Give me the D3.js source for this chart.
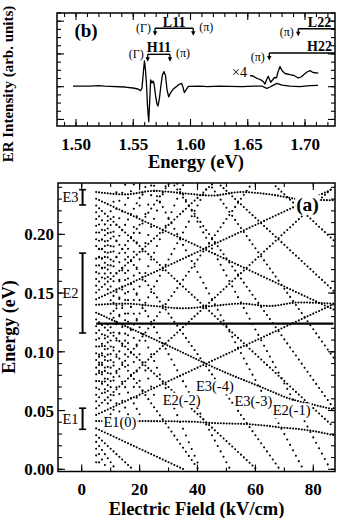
<!DOCTYPE html>
<html><head><meta charset="utf-8">
<script src="https://cdn.jsdelivr.net/npm/d3@7"></script>
<style>
html,body{margin:0;padding:0;background:#fff;}
svg{display:block;}
text{font-family:"Liberation Serif","Times New Roman",serif;fill:#000;}
</style></head><body>
<svg id="c" width="340" height="518"></svg>
<script>
// ================= DATA =================
// Panel (b): electroreflectance spectrum, [energy eV, intensity arb.]
const specTickLabels = [1.50, 1.55, 1.60, 1.65, 1.70];
const specMain = [
 [1.4974,0.02],[1.5122,0.02],[1.5200,0.03],[1.5250,0.015],[1.5297,0.01],[1.5428,-0.01],
 [1.5498,-0.04],[1.5541,-0.07],[1.5563,-0.12],[1.5576,-0.05],[1.5590,0.51],[1.5598,0.79],
 [1.5607,0.50],[1.5616,0.05],[1.5624,-0.56],[1.5635,-1.07],[1.5644,-0.41],[1.5652,0.21],
 [1.5664,0.11],[1.5672,0.17],[1.5681,0.11],[1.5694,-0.25],[1.5707,-0.53],[1.5716,-0.59],
 [1.5729,-0.35],[1.5742,0.05],[1.5755,0.36],[1.5769,0.46],[1.5782,0.33],[1.5795,-0.10],
 [1.5810,-0.31],[1.5825,-0.19],[1.5850,-0.07],[1.5879,0.01],[1.5900,0.07],[1.5923,0.10],
 [1.5934,-0.01],[1.5946,-0.18],[1.5961,-0.10],[1.5981,0.01],[1.6083,0.02],[1.6150,0.00],
 [1.6250,0.02],[1.6345,0.01],[1.6450,0.00],[1.6550,0.02],[1.6624,0.02],[1.6651,-0.03],
 [1.6668,-0.05],[1.6694,-0.01],[1.6721,0.04],[1.6755,0.10],[1.6799,0.05],[1.6869,0.02],
 [1.6956,0.00],[1.7044,0.03],[1.7114,0.04]
];
const specX4 = [
 [1.6520,0.342],[1.6546,0.327],[1.6578,0.256],[1.6598,0.235],[1.6622,0.195],[1.6638,0.144],
 [1.6651,0.082],[1.6664,0.205],[1.6679,0.318],[1.6700,0.134],[1.6716,0.205],[1.6734,0.281],
 [1.6751,0.272],[1.6764,0.449],[1.6782,0.617],[1.6799,0.495],[1.6825,0.403],[1.6869,0.366],
 [1.6904,0.342],[1.6941,0.266],[1.6965,0.296],[1.6991,0.373],[1.7017,0.449],[1.7044,0.489],
 [1.7070,0.434],[1.7116,0.412]
];
// transition energies (eV) marked by arrows
const transNames = ["L11","H11","L22","H22"];
const transGamma = [1.5690, 1.5626, null, null];
const transPi    = [1.6024, 1.5821, 1.6941, 1.6688];

// Panel (a): Wannier-Stark fan, segments [F0 (kV/cm), E0 (eV), F1, E1]
const fieldTickLabels = [0, 20, 40, 60, 80];
const energyTickLabels = [0.00, 0.05, 0.10, 0.15, 0.20];
const e1Lines = [
 [5,0.0348,35.2,0],[5,0.0290,17.6,0],[5,0.0233,11.7,0],[5,0.0175,8.8,0],[5,0.0118,7.0,0],[5,0.0060,5.9,0],
 [5,0.0463,87,0.1405],[5,0.0520,87,0.2405],[5,0.0578,58.7,0.243],[5,0.0635,44.0,0.243],
 [5,0.0693,35.2,0.243],[5,0.0750,29.3,0.243],[5,0.0808,25.2,0.243],[5,0.0865,22.0,0.243]
];
const e2Lines = [
 [5,0.1275,60.4,0],[5,0.1218,40.3,0],[5,0.1160,20.4,0.045],[5,0.1103,16.3,0.045],
 [5,0.1045,13.6,0.045],[5,0.0988,11.7,0.045],[5,0.0930,10.2,0.045],
 [5,0.1448,87,0.239],[5,0.1505,45.2,0.243],[5,0.1563,30.1,0.243],[5,0.1620,22.6,0.243],
 [5,0.1678,18.1,0.243],[5,0.1735,15.1,0.243],[5,0.1793,12.9,0.243]
];
const e3Lines = [
 [5,0.2303,87,0.136],[5,0.2245,87,0.036],[5,0.2188,68.4,0],
 [5,0.2130,51.3,0],[5,0.2073,41.0,0],[5,0.2015,25.5,0.06],[5,0.1958,21.9,0.06],[5,0.1900,19.1,0.06]
];
const e4Lines = [
 [47.4,0.243,87,0.152],[31.6,0.243,87,0.052],[23.7,0.243,76.5,0],
 [66.1,0.243,87,0.195],[44.1,0.243,87,0.095],[33.0,0.243,85.9,0]
];
// curved branches [F, E]
const e1ZeroCurve = [[5,0.041],[20,0.041],[38,0.0405],[44,0.0395],[50,0.039],[58,0.0383],
 [64,0.037],[68,0.0358],[74,0.0345],[80,0.0325],[87,0.029]];
const e2MinusOneCurve = [[5,0.1333],[30,0.105],[50,0.082],[62,0.070],[72,0.060],[80,0.055],[87,0.051]];
const e2ZeroCurve = [[5,0.140],[15,0.141],[25,0.139],[35,0.137],[45,0.139],[55,0.141],[65,0.139],[75,0.142],[87,0.141]];
const e3ZeroCurve = [[5,0.236],[15,0.234],[25,0.237],[35,0.235],[45,0.233],[55,0.236],[65,0.234],[75,0.230],[87,0.229]];
// solid reference level
const refLevelE = 0.124;
const refLevelF = [5, 87];
// miniband widths at F = 0
const minibandNames = ["E1","E2","E3"];
const minibandLo = [0.034, 0.116, 0.225];
const minibandHi = [0.052, 0.184, 0.238];
// state labels
const stateLabelText = ["E1(0)","E2(-2)","E3(-4)","E3(-3)","E2(-1)"];
const stateLabelF = [13.2, 34.5, 46.0, 59.3, 72.5];
const stateLabelE = [0.0397, 0.059, 0.0703, 0.0581, 0.050];

// ================= DRAWING =================
const svg = d3.select("#c");
svg.append("rect").attr("width",340).attr("height",518).attr("fill","#fff");

function mkTicks(g, xs, ys, vertical, vals, majorTest, majLen, minLen){
  vals.forEach(v=>{
    const L = majorTest(v) ? majLen : minLen;
    if(vertical){
      g.append("line").attr("x1",v).attr("x2",v).attr("y1",ys[1]).attr("y2",ys[1]-L);
      g.append("line").attr("x1",v).attr("x2",v).attr("y1",ys[0]).attr("y2",ys[0]+L);
    } else {
      g.append("line").attr("y1",v).attr("y2",v).attr("x1",xs[0]).attr("x2",xs[0]+L);
      g.append("line").attr("y1",v).attr("y2",v).attr("x1",xs[1]).attr("x2",xs[1]-L);
    }
  });
}

// ---------- Panel (b) ----------
const bx = d3.scaleLinear().domain([1.4834,1.7262]).range([57,335]);
const by = d3.scaleLinear().domain([-1.2,2.25]).range([126,13]);
const gb = svg.append("g");
const lineB = d3.line().x(d=>bx(d[0])).y(d=>by(d[1]));
gb.append("path").attr("d",lineB(specMain)).attr("fill","none").attr("stroke","#000").attr("stroke-width",1.3).attr("stroke-linejoin","round");
gb.append("path").attr("d",lineB(specX4)).attr("fill","none").attr("stroke","#000").attr("stroke-width",1.3).attr("stroke-linejoin","round");
gb.append("text").attr("x",247).attr("y",76.5).attr("text-anchor","end").attr("font-size",14).text("×4");

const tb = gb.append("g").attr("stroke","#000").attr("stroke-width",1.1);
mkTicks(tb,[57,335],[13,126],true, d3.range(149,173).map(v=>bx(v/100)), ()=>false, 7, 4);
mkTicks(tb,[57,335],[13,126],true, specTickLabels.map(v=>bx(v)), ()=>true, 7, 4);
mkTicks(tb,[57,335],[13,126],false, d3.range(-4,10).map(v=>by(v/4)), ()=>false, 7, 4);
mkTicks(tb,[57,335],[13,126],false, [-1,0,1,2].map(v=>by(v)), ()=>true, 7, 4);
gb.append("rect").attr("x",57).attr("y",13).attr("width",278).attr("height",113).attr("fill","none").attr("stroke","#000").attr("stroke-width",1.5);

specTickLabels.forEach(v=>{
  gb.append("text").attr("x",bx(v)).attr("y",149.5).attr("text-anchor","middle").attr("font-size",17).attr("font-weight","bold").text(v.toFixed(2));
});
gb.append("text").attr("x",196).attr("y",168).attr("text-anchor","middle").attr("font-size",18.5).attr("font-weight","bold").text("Energy (eV)");
gb.append("text").attr("transform","translate(13,84) rotate(-90)").attr("text-anchor","middle").attr("font-size",15).attr("font-weight","bold").text("ER Intensity (arb. units)");
gb.append("text").attr("x",86).attr("y",37).attr("text-anchor","middle").attr("font-size",19).attr("font-weight","bold").text("(b)");

// transition arrows
const barY = {L11:28.3, H11:54.3, L22:28.7, H22:53};
const labY = {L11:26.5, H11:52, L22:26.5, H22:50.7};
function arrowDown(g, x, y0, tip){
  g.append("line").attr("x1",x).attr("x2",x).attr("y1",y0).attr("y2",tip-3).attr("stroke","#000").attr("stroke-width",1.3);
  g.append("path").attr("d",`M${x-2.2},${tip-4.5}L${x+2.2},${tip-4.5}L${x},${tip}Z`).attr("fill","#000");
}
transNames.forEach((n,i)=>{
  const yb = barY[n];
  const xp = bx(transPi[i]);
  const xg = transGamma[i]!=null ? bx(transGamma[i]) : null;
  const xr = xg!=null ? xp : 335;
  const xl = xg!=null ? xg : xp;
  gb.append("line").attr("x1",xl).attr("x2",xr).attr("y1",yb).attr("y2",yb).attr("stroke","#000").attr("stroke-width",1.4);
  arrowDown(gb, xl, yb, yb+7.5);
  if(xg!=null) arrowDown(gb, xp, yb, yb+7.5);
  const tx = xg!=null ? (xl+xr)/2 : 319.5;
  gb.append("text").attr("x",tx).attr("y",labY[n]).attr("text-anchor","middle").attr("font-size",14).attr("font-weight","bold").text(n);
  if(xg!=null){
    gb.append("text").attr("x",xg-11.5).attr("y",yb+4).attr("text-anchor","middle").attr("font-size",12).text("(Γ)");
    gb.append("text").attr("x",xp+13).attr("y",yb+3).attr("text-anchor","middle").attr("font-size",12).text("(π)");
  } else {
    gb.append("text").attr("x",xp-11.5).attr("y",yb+7.5).attr("text-anchor","middle").attr("font-size",12).text("(π)");
  }
});

// ---------- Panel (a) ----------
const ax = d3.scaleLinear().domain([-8.19,87.5]).range([58,335]);
const ay = d3.scaleLinear().domain([-0.0019,0.2437]).range([471.5,183]);
const ga = svg.append("g");
svg.append("clipPath").attr("id","clipA").append("rect").attr("x",58).attr("y",183).attr("width",277).attr("height",288.5);
const gl = ga.append("g").attr("clip-path","url(#clipA)");
const DOT = 2.1;

function dottedSeg(s){
  const [F0,E0,F1,E1] = s;
  const x0=ax(F0), y0=ay(E0), x1=ax(F1), y1=ay(E1);
  const L = Math.hypot(x1-x0,y1-y0);
  const gap = L/(F1-F0);
  const first = Math.ceil(F0-1e-9);
  const off = (first-F0)*gap;
  const d0 = ((gap-off)%gap+gap)%gap;
  gl.append("path").attr("d",`M${x0},${y0}L${x1},${y1}`)
    .attr("fill","none").attr("stroke","#000").attr("stroke-width",DOT)
    .attr("stroke-linecap","round").attr("stroke-dasharray",`0 ${gap.toFixed(3)}`)
    .attr("stroke-dashoffset",d0.toFixed(3));
}
[...e1Lines, ...e2Lines, ...e3Lines, ...e4Lines].forEach(dottedSeg);
const curveA = d3.line().x(d=>ax(d[0])).y(d=>ay(d[1])).curve(d3.curveMonotoneX);
[e1ZeroCurve, e2MinusOneCurve, e2ZeroCurve, e3ZeroCurve].forEach(c=>{
  gl.append("path").attr("d",curveA(c)).attr("fill","none").attr("stroke","#000").attr("stroke-width",DOT)
    .attr("stroke-linecap","round").attr("stroke-dasharray","0 2.9");
});
gl.append("line").attr("x1",ax(refLevelF[0])).attr("x2",ax(refLevelF[1])).attr("y1",ay(refLevelE)).attr("y2",ay(refLevelE))
  .attr("stroke","#000").attr("stroke-width",2.3);

// state labels with white background
function bgLabel(g, x, y, txt, size, weight){
  const t = g.append("text").attr("x",x).attr("y",y+size*0.33).attr("text-anchor","middle")
    .attr("font-size",size).attr("font-weight",weight||"normal").text(txt);
  const bb = t.node().getBBox();
  g.insert("rect", function(){return t.node();}).attr("x",bb.x-1).attr("y",bb.y+1).attr("width",bb.width+2).attr("height",bb.height-2).attr("fill","#fff");
}
const gLab = ga.append("g");
stateLabelText.forEach((t,i)=> bgLabel(gLab, ax(stateLabelF[i]), ay(stateLabelE[i]), t, 14.5));
bgLabel(gLab, 307.5, 204.5, "(a)", 19.5, "bold");

// miniband bars
minibandNames.forEach((n,i)=>{
  const xb = ax(0.3), y1 = ay(minibandLo[i]), y2 = ay(minibandHi[i]);
  ga.append("line").attr("x1",xb).attr("x2",xb).attr("y1",y1).attr("y2",y2).attr("stroke","#000").attr("stroke-width",2);
  [y1,y2].forEach(yy=>ga.append("line").attr("x1",xb-3.5).attr("x2",xb+3.5).attr("y1",yy).attr("y2",yy).attr("stroke","#000").attr("stroke-width",1.6));
  const ym = ay((minibandLo[i]+minibandHi[i])/2);
  ga.append("text").attr("x",62.5).attr("y",ym+5).attr("font-size",14.5).text(n);
});

const ta = ga.append("g").attr("stroke","#000").attr("stroke-width",1.1);
mkTicks(ta,[58,335],[183,471.5],true, d3.range(0,90,10).map(v=>ax(v)), v=>false, 7, 4);
mkTicks(ta,[58,335],[183,471.5],true, fieldTickLabels.map(v=>ax(v)), ()=>true, 7, 4);
mkTicks(ta,[58,335],[183,471.5],false, d3.range(0,25).map(v=>ay(v/100)), ()=>false, 7, 4);
mkTicks(ta,[58,335],[183,471.5],false, energyTickLabels.map(v=>ay(v)), ()=>true, 7, 4);
ga.append("rect").attr("x",58).attr("y",183).attr("width",277).attr("height",288.5).attr("fill","none").attr("stroke","#000").attr("stroke-width",1.5);

fieldTickLabels.forEach(v=>{
  ga.append("text").attr("x",ax(v)).attr("y",494.5).attr("text-anchor","middle").attr("font-size",17).attr("font-weight","bold").text(v);
});
energyTickLabels.forEach(v=>{
  ga.append("text").attr("x",54).attr("y",ay(v)+6).attr("text-anchor","end").attr("font-size",17).attr("font-weight","bold").text(v.toFixed(2));
});
ga.append("text").attr("x",196.5).attr("y",515).attr("text-anchor","middle").attr("font-size",18.5).attr("font-weight","bold").text("Electric Field (kV/cm)");
ga.append("text").attr("transform","translate(15,327) rotate(-90)").attr("text-anchor","middle").attr("font-size",18).attr("font-weight","bold").text("Energy (eV)");
</script>
</body></html>
